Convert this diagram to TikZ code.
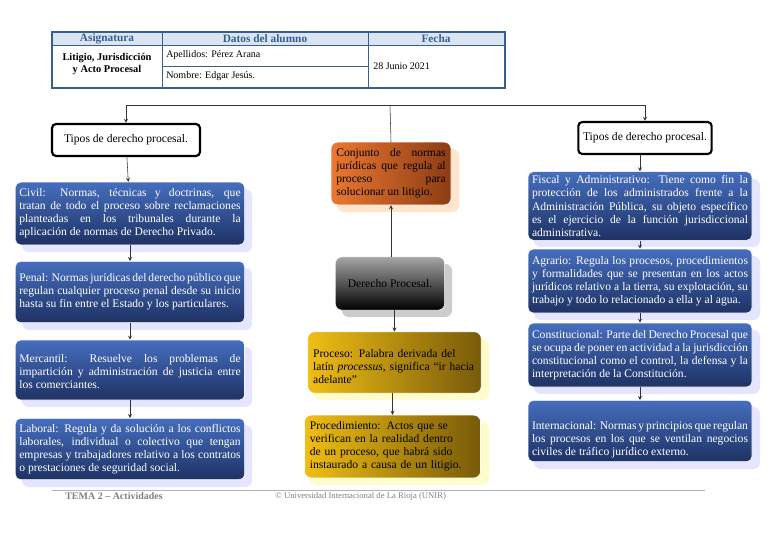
\documentclass[tikz,border=0pt]{standalone}
\usepackage{fontspec}
\setmainfont{Liberation Serif}
\usetikzlibrary{positioning}
\definecolor{tblue}{RGB}{54,95,145}
\definecolor{thead}{RGB}{219,229,241}
\definecolor{bluetop}{RGB}{70,110,190}
\definecolor{bluebot}{RGB}{30,50,100}
\definecolor{orgl}{RGB}{235,120,50}
\definecolor{orgr}{RGB}{140,60,20}
\definecolor{goldl}{RGB}{240,190,20}
\definecolor{goldr}{RGB}{120,90,10}
\begin{document}
\begin{tikzpicture}[x=0.75pt,y=-0.75pt,font=\fontsize{8.7}{9.8}\selectfont,>=stealth]
    \tikzstyle{every node}=[inner sep=0pt]
    \tikzstyle{blueb}=[rounded corners=4pt,top color=bluetop,bottom color=bluebot,draw=white,text=white]
    \tikzstyle{orangeb}=[rounded corners=5pt,left color=orgl,right color=orgr,draw=white]
    \tikzstyle{goldb}=[rounded corners=5pt,left color=goldl,right color=goldr,draw=white]
    \tikzstyle{blackb}=[rounded corners=5pt,top color=gray!70,bottom color=black,draw=white]
    \tikzstyle{txt}=[align=justify,text width=#1]
    \tikzstyle{title}=[draw=black,line width=1.6pt,rounded corners=3pt]
    \tikzstyle{link}=[->,draw=black!80,thin]
    \useasboundingbox (0,0) rectangle (768,543);
    \hyphenpenalty=10000

    % table
    \fill[thead] (52,32) rectangle (505,45);
    \draw[tblue,thick] (52,32) rectangle (505,88);
    \draw[tblue] (52,45) -- (505,45) (162,32) -- (162,88) (368,32) -- (368,88) (162,66) -- (368,66);
    \node[text=tblue,font=\bfseries\fontsize{8.5}{9}\selectfont] (hA) at (107,38.5) {Asignatura};
    \node[text=tblue,font=\bfseries\fontsize{8.5}{9}\selectfont] (hD) at (265,38.5) {Datos del alumno};
    \node[text=tblue,font=\bfseries\fontsize{8.5}{9}\selectfont] (hF) at (436,38.5) {Fecha};
    \node[align=center,font=\bfseries\fontsize{7.8}{8.5}\selectfont] (asig) at (107,64) {Litigio, Jurisdicción\\y Acto Procesal};
    \node[anchor=west,font=\fontsize{7.5}{9}\selectfont] (ape) at (166,55) {Apellidos: Pérez Arana};
    \node[anchor=west,font=\fontsize{7.5}{9}\selectfont] (nom) at (166,76) {Nombre: Edgar Jesús.};
    \node[anchor=west,font=\fontsize{7.5}{9}\selectfont] (fecha) at (373,66) {28 Junio 2021};

    % shadows
    \foreach \a/\b/\c/\d/\col in {15/182/245/245/blue!10,15/261/245/323/blue!10,15/340/245/400/blue!10,15/418/245/480/blue!10,
      527/172/753/240/blue!10,527/249/753/313/blue!10,527/323/753/387/blue!10,527/400/753/462/blue!10,
      330/142/452/205/orange!20,335/257/445/310/gray!40,307/332/482/393/yellow!20,303/415/482/478/yellow!20}
      \fill[\col,rounded corners=5pt] (\a+7,\b+7) rectangle (\c+7,\d+7);

    % nodes
    \node[title,minimum width=111pt,minimum height=24pt] (tl) at (126,140) {Tipos de derecho procesal.};
    \node[title,minimum width=100pt,minimum height=24pt] (tr) at (645,138) {Tipos de derecho procesal.};

    \node[blueb,txt=166pt,minimum height=47pt,inner sep=3pt] (civ) at (130,213.5) {Civil: Normas, técnicas y doctrinas, que tratan de todo el proceso sobre reclamaciones planteadas en los tribunales durante la aplicación de normas de Derecho Privado.};
    \node[blueb,txt=166pt,minimum height=46pt,inner sep=3pt] (pen) at (130,292) {Penal: Normas jurídicas del derecho público que regulan cualquier proceso penal desde su inicio hasta su fin entre el Estado y los particulares.};
    \node[blueb,txt=166pt,minimum height=45pt,inner sep=3pt,text depth=18pt] (mer) at (130,370) {Mercantil: Resuelve los problemas de impartición y administración de justicia entre los comerciantes.};
    \node[blueb,txt=166pt,minimum height=46pt,inner sep=3pt] (lab) at (130,449) {Laboral: Regula y da solución a los conflictos laborales, individual o colectivo que tengan empresas y trabajadores relativo a los contratos o prestaciones de seguridad social.};

    \node[blueb,txt=162pt,minimum height=51pt,inner sep=3pt] (fis) at (640,206) {Fiscal y Administrativo: Tiene como fin la protección de los administrados frente a la Administración Pública, su objeto específico es el ejercicio de la función jurisdiccional administrativa.};
    \node[blueb,txt=162pt,minimum height=48pt,inner sep=3pt] (agr) at (640,281) {Agrario: Regula los procesos, procedimientos y formalidades que se presentan en los actos jurídicos relativo a la tierra, su explotación, su trabajo y todo lo relacionado a ella y al agua.};
    \node[blueb,txt=162pt,minimum height=48pt,inner sep=3pt] (con) at (640,355) {Constitucional: Parte del Derecho Procesal que se ocupa de poner en actividad a la jurisdicción constitucional como el control, la defensa y la interpretación de la Constitución.};
    \node[blueb,txt=162pt,minimum height=46pt,inner sep=3pt,text depth=8pt] (int) at (640,431) {Internacional: Normas y principios que regulan los procesos en los que se ventilan negocios civiles de tráfico jurídico externo.};

    \node[orangeb,txt=82pt,minimum height=47pt,inner sep=4pt] (conj) at (391,173.5) {Conjunto de normas jurídicas que regula al proceso\hfill para\\solucionar un litigio.};
    \node[blackb,minimum width=82pt,minimum height=40pt] (dp) at (390,283.5) {Derecho Procesal.};
    \node[goldb,txt=122pt,align=left,minimum height=46pt,inner sep=4pt,text depth=14pt] (pro) at (394.5,362.5) {Proceso: Palabra derivada del latín \textit{processus}, significa “ir hacia adelante”};
    \node[goldb,txt=124pt,align=left,minimum height=47pt,inner sep=4pt] (proc) at (392.5,446.5) {Procedimiento: Actos que se verifican en la realidad dentro de un proceso, que habrá sido instaurado a causa de un litigio.};

    % connectors
    \coordinate (top) at (390,105);
    \draw[black!80] (top) -- (conj.north);
    \draw[link] (top) -| (tl.north);
    \draw[link] (top) -| (tr.north);
    \draw[link] (tl) -- (civ);
    \draw[link] (civ) -- (pen);
    \draw[link] (pen) -- (mer);
    \draw[link] (mer) -- (lab);
    \draw[link] (tr.south -| fis.north) -- (fis);
    \draw[link] (fis) -- (agr);
    \draw[link] (agr) -- (con);
    \draw[link] (con) -- (int);
    \draw[link] (dp.north -| conj.south) -- (conj.south);
    \draw[link] (dp.south -| pro.north) -- (pro.north);
    \draw[link] (pro.south -| proc.north) -- (proc.north);

    % footer
    \draw[gray!60] (52,490) -- (705,490);
    \node[anchor=west,text=gray,font=\bfseries\fontsize{7.5}{9}\selectfont] (tema) at (65,496) {TEMA 2 – Actividades};
    \node[anchor=west,text=gray,font=\fontsize{6.5}{8}\selectfont] (unir) at (275,496) {© Universidad Internacional de La Rioja (UNIR)};
\end{tikzpicture}
\end{document}
